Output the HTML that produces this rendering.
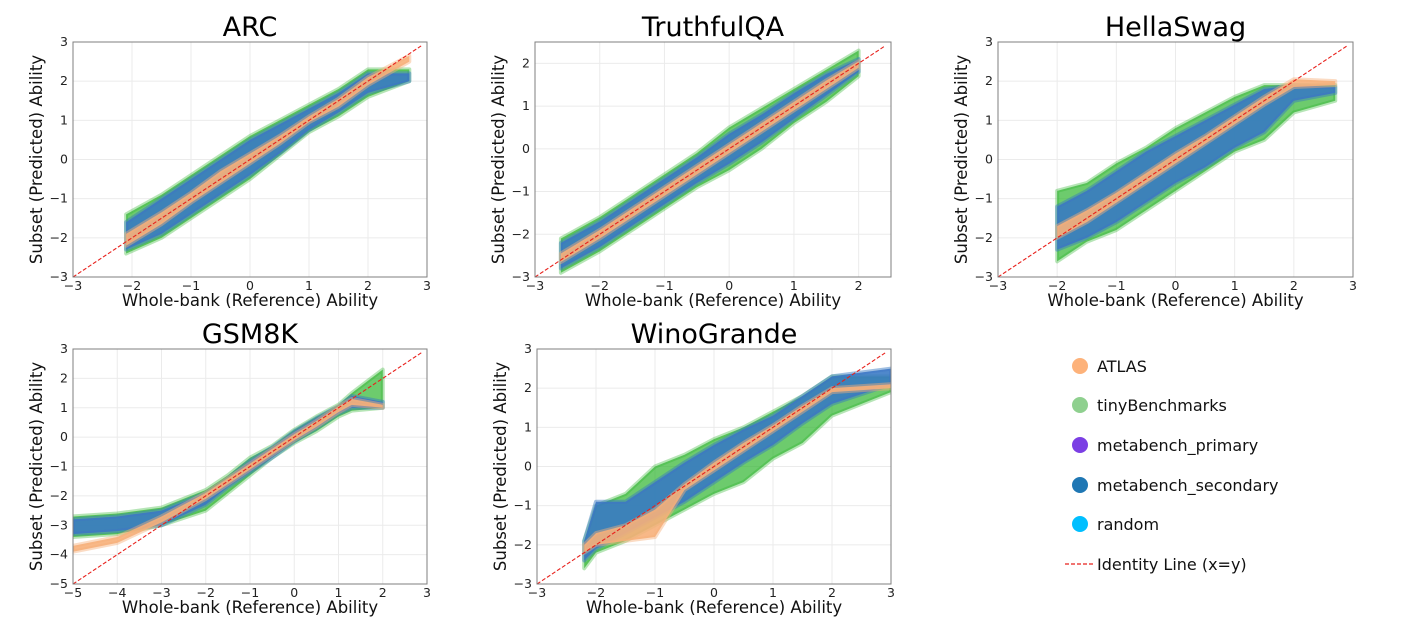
<!DOCTYPE html>
<html><head><meta charset="utf-8">
<style>
body{margin:0;background:#fff;font-family:"Liberation Sans","DejaVu Sans",sans-serif;}
svg text{font-family:"DejaVu Sans","Liberation Sans",sans-serif;}
</style></head>
<body>
<svg id="chart" width="1413" height="635" viewBox="0 0 1413 635" xmlns="http://www.w3.org/2000/svg"></svg>
<script>
// ---- data (band envelopes read from the point clouds) ----
const arcX=[-2.1,-1.5,-1,-0.5,0,0.5,1,1.5,2,2.7];
const arcGreenLo=[-2.4,-2.0,-1.5,-1.0,-0.5,0.1,0.7,1.1,1.6,2.0];
const arcGreenHi=[-1.4,-0.9,-0.4,0.1,0.6,1.0,1.4,1.8,2.3,2.3];
const arcBlueLo=[-2.3,-1.9,-1.4,-0.9,-0.4,0.15,0.75,1.2,1.7,2.0];
const arcBlueHi=[-1.6,-1.0,-0.5,0.0,0.5,0.9,1.3,1.7,2.2,2.2];
const arcAtlasLo=[-2.2,-1.65,-1.1,-0.6,-0.1,0.4,0.95,1.35,1.9,2.5];
const arcAtlasHi=[-1.9,-1.35,-0.85,-0.3,0.15,0.6,1.1,1.55,2.1,2.65];

const tqaX=[-2.6,-2,-1.5,-1,-0.5,0,0.5,1,1.5,2];
const tqaGreenLo=[-2.9,-2.4,-1.9,-1.4,-0.9,-0.5,0,0.6,1.1,1.7];
const tqaGreenHi=[-2.1,-1.6,-1.1,-0.6,-0.1,0.5,0.95,1.4,1.85,2.3];
const tqaBlueLo=[-2.8,-2.3,-1.8,-1.3,-0.8,-0.35,0.15,0.7,1.25,1.8];
const tqaBlueHi=[-2.2,-1.7,-1.2,-0.7,-0.2,0.35,0.8,1.3,1.75,2.1];
const tqaAtlasLo=[-2.65,-2.1,-1.6,-1.1,-0.6,-0.1,0.4,0.9,1.4,1.9];
const tqaAtlasHi=[-2.45,-1.9,-1.4,-0.9,-0.4,0.1,0.6,1.1,1.6,2.05];

const hsX=[-2,-1.5,-1,-0.5,0,0.5,1,1.5,2,2.7];
const hsGreenLo=[-2.6,-2.1,-1.8,-1.3,-0.8,-0.3,0.2,0.5,1.2,1.5];
const hsGreenHi=[-0.8,-0.6,-0.1,0.3,0.8,1.2,1.6,1.9,1.9,1.9];
const hsBlueLo=[-2.3,-2.0,-1.6,-1.1,-0.6,-0.2,0.3,0.7,1.5,1.7];
const hsBlueHi=[-1.2,-0.8,-0.3,0.2,0.6,1.0,1.4,1.8,1.9,1.85];
const hsAtlasLo=[-2.0,-1.6,-1.1,-0.6,-0.1,0.4,0.9,1.4,1.85,1.9];
const hsAtlasHi=[-1.7,-1.3,-0.85,-0.35,0.15,0.6,1.1,1.6,2.05,2.0];

const gsmX=[-5,-4,-3,-2,-1.5,-1,-0.5,0,0.5,1,1.3,2];
const gsmGreenLo=[-3.4,-3.3,-3.0,-2.5,-1.9,-1.3,-0.7,-0.2,0.2,0.7,0.9,1.0];
const gsmGreenHi=[-2.7,-2.6,-2.4,-1.8,-1.3,-0.7,-0.3,0.25,0.7,1.1,1.5,2.3];
const gsmBlueLo=[-3.3,-3.2,-3.0,-2.3,-1.7,-1.2,-0.7,-0.15,0.3,0.8,1.0,1.0];
const gsmBlueHi=[-2.8,-2.7,-2.5,-1.9,-1.4,-0.8,-0.35,0.2,0.65,1.05,1.4,1.2];
const gsmAtlasLo=[-3.9,-3.6,-2.9,-2.1,-1.6,-1.1,-0.6,-0.1,0.35,0.85,1.1,1.0];
const gsmAtlasHi=[-3.7,-3.4,-2.7,-1.9,-1.4,-0.9,-0.4,0.1,0.55,1.05,1.3,1.1];

const wgX=[-2.2,-2,-1.5,-1,-0.5,0,0.5,1,1.5,2,3];
const wgGreenLo=[-2.6,-2.2,-1.9,-1.5,-1.1,-0.7,-0.4,0.2,0.6,1.3,1.9];
const wgGreenHi=[-1.9,-1.0,-0.7,0.0,0.3,0.7,1.0,1.4,1.8,2.3,2.3];
const wgBlueLo=[-2.4,-2.1,-1.7,-1.3,-0.9,-0.4,0.1,0.55,1.1,1.6,2.1];
const wgBlueHi=[-1.9,-0.9,-0.9,-0.4,0.1,0.55,0.95,1.3,1.8,2.3,2.5];
const wgAtlasLo=[-2.2,-2.0,-1.9,-1.8,-0.6,-0.1,0.4,0.9,1.4,1.9,2.0];
const wgAtlasHi=[-2.0,-1.7,-1.5,-1.1,-0.45,0.1,0.6,1.05,1.55,2.0,2.1];

const legendLabels=["ATLAS","tinyBenchmarks","metabench_primary","metabench_secondary","random"];
const legendColors=["#fdb27a","#8fd08f","#7b3fe4","#1f77b4","#00bfff"];

const NS="http://www.w3.org/2000/svg";
const svg=document.getElementById('chart');
function mk(tag,attrs,parent){const e=document.createElementNS(NS,tag);for(const k in attrs)e.setAttribute(k,attrs[k]);(parent||svg).appendChild(e);return e;}

const panels=[
 {name:"arc",title:"ARC",x0:-3,x1:3,y0:-3,y1:3,L:73,R:427,T:42,B:277,xt:[-3,-2,-1,0,1,2,3],yt:[-3,-2,-1,0,1,2,3],xs:arcX,gl:arcGreenLo,gh:arcGreenHi,bl:arcBlueLo,bh:arcBlueHi,al:arcAtlasLo,ah:arcAtlasHi},
 {name:"truthfulqa",title:"TruthfulQA",x0:-3,x1:2.5,y0:-3,y1:2.5,L:535,R:891,T:42,B:277,xt:[-3,-2,-1,0,1,2],yt:[-3,-2,-1,0,1,2],xs:tqaX,gl:tqaGreenLo,gh:tqaGreenHi,bl:tqaBlueLo,bh:tqaBlueHi,al:tqaAtlasLo,ah:tqaAtlasHi},
 {name:"hellaswag",title:"HellaSwag",x0:-3,x1:3,y0:-3,y1:3,L:998,R:1353,T:42,B:277,xt:[-3,-2,-1,0,1,2,3],yt:[-3,-2,-1,0,1,2,3],xs:hsX,gl:hsGreenLo,gh:hsGreenHi,bl:hsBlueLo,bh:hsBlueHi,al:hsAtlasLo,ah:hsAtlasHi},
 {name:"gsm8k",title:"GSM8K",x0:-5,x1:3,y0:-5,y1:3,L:73,R:427,T:349,B:584,xt:[-5,-4,-3,-2,-1,0,1,2,3],yt:[-5,-4,-3,-2,-1,0,1,2,3],xs:gsmX,gl:gsmGreenLo,gh:gsmGreenHi,bl:gsmBlueLo,bh:gsmBlueHi,al:gsmAtlasLo,ah:gsmAtlasHi},
 {name:"winogrande",title:"WinoGrande",x0:-3,x1:3,y0:-3,y1:3,L:537,R:891,T:349,B:584,xt:[-3,-2,-1,0,1,2,3],yt:[-3,-2,-1,0,1,2,3],xs:wgX,gl:wgGreenLo,gh:wgGreenHi,bl:wgBlueLo,bh:wgBlueHi,al:wgAtlasLo,ah:wgAtlasHi}
];

function fmt(v){return v<0?"\u2212"+(-v):""+v;}

panels.forEach(p=>{
 const sx=v=>p.L+(v-p.x0)/(p.x1-p.x0)*(p.R-p.L);
 const sy=v=>p.B-(v-p.y0)/(p.y1-p.y0)*(p.B-p.T);
 const g=mk('g',{});
 
 
 const clipId='clip-'+p.name;
 const cp=mk('clipPath',{id:clipId},g);mk('rect',{x:p.L,y:p.T,width:p.R-p.L,height:p.B-p.T},cp);
 p.xt.forEach(t=>{const l=mk('line',{x1:sx(t),x2:sx(t),y1:p.T,y2:p.B,stroke:'#ebebeb','stroke-width':1},g);});
 p.yt.forEach(t=>{const l=mk('line',{x1:p.L,x2:p.R,y1:sy(t),y2:sy(t),stroke:'#ebebeb','stroke-width':1},g);});
 const plot=mk('g',{'clip-path':'url(#'+clipId+')'},g);
 function band(lo,hi,color,op,nm){
  let d='M'+p.xs.map((x,i)=>sx(x)+','+sy(hi[i])).join('L');
  d+='L'+p.xs.map((x,i)=>[sx(x),sy(lo[i])]).reverse().map(a=>a.join(',')).join('L')+'Z';
  const e=mk('path',{d:d,fill:color,'fill-opacity':op,stroke:color,'stroke-opacity':op*0.5,'stroke-width':4,'stroke-linejoin':'round'},plot);
  
  
 }
 band(p.gl,p.gh,'#2fb52f',0.7,'tinybenchmarks-cloud');
 band(p.bl,p.bh,'#2a7fc0',0.85,'metabench-secondary-cloud');
 band(p.bl,p.bh,'#6a5fd8',0.18,'metabench-primary-cloud');
 band(p.al,p.ah,'#f7b07a',0.9,'atlas-cloud');
 const m=Math.min(p.x1,p.y1);
 const id=mk('line',{x1:sx(p.x0),y1:sy(p.x0),x2:sx(m-0.1),y2:sy(m-0.1),stroke:'#e8211c','stroke-width':1.1,'stroke-dasharray':'4,2'},plot);
 
 
 const fr=mk('rect',{x:p.L,y:p.T,width:p.R-p.L,height:p.B-p.T,fill:'none',stroke:'#7f7f7f','stroke-width':1},g);
 
 p.xt.forEach(t=>{const e=mk('text',{x:sx(t),y:p.B+13,'font-size':12.5,'text-anchor':'middle',fill:'#222'},g);e.textContent=fmt(t);});
 p.yt.forEach(t=>{const e=mk('text',{x:p.L-5,y:sy(t)+4,'font-size':12.5,'text-anchor':'end',fill:'#222'},g);e.textContent=fmt(t);});
 const tt=mk('text',{x:(p.L+p.R)/2,y:p.T-6,'font-size':27,'text-anchor':'middle',fill:'#000'},g);tt.textContent=p.title;
 
 const xl=mk('text',{x:(p.L+p.R)/2,y:p.B+29,'font-size':16.5,'text-anchor':'middle',fill:'#111'},g);xl.textContent='Whole-bank (Reference) Ability';
 
 const cy=(p.T+p.B)/2, cx=p.L-31;
 const yl=mk('text',{x:cx,y:cy,'font-size':16.5,'text-anchor':'middle',fill:'#111',transform:'rotate(-90 '+cx+' '+cy+')'},g);yl.textContent='Subset (Predicted) Ability';
 
});

const lg=mk('g',{});


const ly=[366,405,445,485,524];
legendLabels.forEach((lab,i)=>{
 const c=mk('circle',{cx:1080,cy:ly[i],r:8,fill:legendColors[i]},lg);
 
 const t=mk('text',{x:1097,y:ly[i]+6,'font-size':16,fill:'#111'},lg);t.textContent=lab;
 
});
const ll=mk('line',{x1:1065,x2:1095,y1:564,y2:564,stroke:'#e8211c','stroke-width':1.3,'stroke-dasharray':'4,2'},lg);

const lt=mk('text',{x:1097,y:570,'font-size':16,fill:'#111'},lg);lt.textContent='Identity Line (x=y)';

</script>
</body></html>
